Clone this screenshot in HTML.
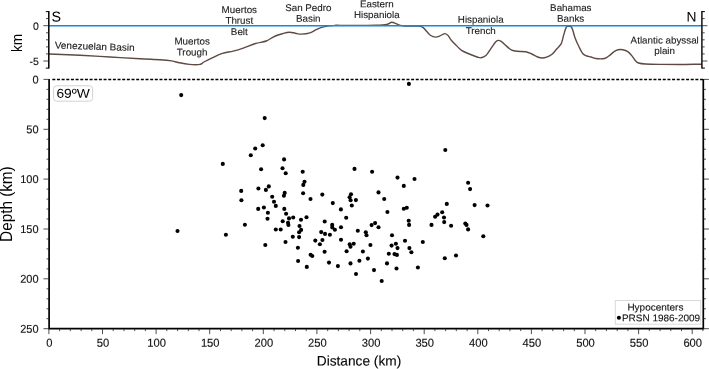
<!DOCTYPE html>
<html><head><meta charset="utf-8"><title>Hypocenters 69W</title>
<style>html,body{margin:0;padding:0;background:#fff}svg{display:block}svg{stroke-width:0}text{font-family:"Liberation Sans",Arial,sans-serif;stroke:#1c1c1c}</style></head><body>
<svg width="709" height="369" viewBox="0 0 709 369">
<rect width="709" height="369" fill="#fff"/>
<g id="top">
<path d="M49.0 54.0 C54.2 54.2 69.8 54.8 80.0 55.3 C90.2 55.8 100.0 56.4 110.0 57.0 C120.0 57.6 131.7 58.3 140.0 58.8 C148.3 59.3 154.7 59.4 160.0 59.8 C165.3 60.1 168.4 60.4 171.7 60.9 C174.9 61.4 176.6 62.2 179.5 62.8 C182.4 63.4 185.9 64.1 189.3 64.4 C192.7 64.7 197.6 64.8 200.0 64.4 C202.4 64.0 201.8 63.1 203.9 62.0 C206.0 60.9 209.6 59.1 212.7 57.6 C215.8 56.1 219.0 54.4 222.4 53.3 C225.8 52.2 229.6 52.0 233.2 51.1 C236.8 50.2 240.2 49.1 243.9 47.8 C247.6 46.5 251.9 44.6 255.6 43.5 C259.3 42.4 263.4 42.1 266.3 41.0 C269.2 39.9 271.2 38.1 273.2 37.1 C275.1 36.1 276.4 35.6 278.0 35.0 C279.6 34.4 280.8 34.1 282.7 33.6 C284.6 33.1 287.4 32.3 289.5 32.2 C291.6 32.1 293.4 32.9 295.4 33.2 C297.3 33.5 298.8 34.2 301.2 34.1 C303.6 34.0 307.4 33.6 310.0 32.8 C312.6 32.0 314.5 30.3 316.8 29.3 C319.1 28.3 320.8 27.5 323.7 26.9 C326.6 26.2 331.6 25.6 334.4 25.4 C337.1 25.1 335.9 25.4 340.2 25.4 C344.5 25.4 354.0 25.4 360.0 25.4 C366.0 25.4 371.5 25.5 376.0 25.3 C380.5 25.1 384.2 24.9 386.8 24.4 C389.4 23.9 390.1 22.3 391.7 22.2 C393.3 22.1 394.8 23.2 396.6 23.8 C398.4 24.4 398.8 25.4 402.4 25.8 C406.0 26.2 414.6 25.8 418.0 26.0 C421.4 26.2 421.4 26.4 422.9 27.3 C424.4 28.2 425.5 30.2 426.8 31.6 C428.1 33.0 429.2 34.6 430.7 35.5 C432.2 36.4 434.1 37.0 435.6 37.1 C437.1 37.2 438.0 36.7 439.5 36.1 C441.0 35.5 443.2 33.8 444.6 33.6 C446.0 33.4 446.5 34.0 447.6 35.1 C448.8 36.2 450.0 38.8 451.5 40.5 C453.0 42.2 454.7 44.0 456.4 45.6 C458.1 47.2 459.4 48.9 461.5 50.3 C463.6 51.7 466.7 52.9 469.3 54.0 C471.9 55.1 475.2 56.4 477.1 57.0 C479.1 57.6 479.5 58.0 481.0 57.8 C482.5 57.6 484.3 57.1 485.9 55.6 C487.5 54.1 489.1 51.1 490.7 48.8 C492.3 46.5 494.4 43.4 495.6 42.0 C496.8 40.6 497.1 40.5 498.1 40.4 C499.1 40.3 500.1 40.7 501.5 41.6 C502.9 42.5 504.7 44.5 506.3 45.9 C507.9 47.3 509.4 48.9 511.2 49.8 C513.0 50.7 514.6 51.0 517.1 51.3 C519.6 51.6 523.5 51.2 525.9 51.7 C528.3 52.2 529.8 53.1 531.7 54.0 C533.7 54.9 535.8 56.3 537.6 57.0 C539.4 57.7 540.9 58.0 542.4 58.0 C543.9 58.0 545.0 57.8 546.6 57.2 C548.2 56.6 550.4 55.5 552.0 54.2 C553.6 52.9 554.9 51.0 556.4 49.3 C557.9 47.6 559.9 46.1 561.1 43.9 C562.3 41.7 562.7 38.5 563.4 36.1 C564.1 33.7 564.9 30.8 565.4 29.3 C565.9 27.8 566.1 27.5 566.4 27.0 C566.7 26.5 566.8 26.4 567.4 26.3 C568.0 26.2 569.6 26.2 570.3 26.3 C570.9 26.4 570.9 26.4 571.3 27.0 C571.7 27.6 572.2 28.4 572.8 30.2 C573.4 32.0 574.1 35.2 575.1 38.0 C576.1 40.8 577.7 44.2 579.0 46.8 C580.3 49.4 581.6 52.2 582.9 53.7 C584.2 55.2 585.4 55.5 586.8 56.0 C588.2 56.5 589.6 56.6 591.1 57.0 C592.6 57.4 593.4 58.2 595.6 58.5 C597.8 58.8 602.1 59.0 604.4 58.5 C606.7 58.0 607.7 56.7 609.3 55.6 C610.9 54.5 612.6 52.7 614.1 51.7 C615.6 50.7 616.5 50.1 618.0 49.8 C619.5 49.5 621.3 49.5 622.9 49.8 C624.5 50.1 626.3 50.7 627.8 51.7 C629.3 52.7 630.4 54.1 631.7 55.6 C633.0 57.1 634.5 59.7 635.6 60.9 C636.7 62.1 636.9 62.5 638.5 63.0 C640.1 63.5 641.8 63.8 645.4 64.0 C649.0 64.2 654.2 64.3 660.0 64.4 C665.8 64.5 673.0 64.5 680.0 64.5 C687.0 64.5 698.1 64.2 701.7 64.2" fill="none" stroke="#5f4a43" stroke-width="1.4" stroke-linejoin="round"/>
<line x1="48.8" y1="25.7" x2="701.9" y2="25.7" stroke="#0f8ae0" stroke-width="1.5"/>
<g stroke="#000" fill="none">
<path d="M45.8 11.6 H48.8 M45.8 68.1 H48.8" stroke-width="1"/>
<line x1="48.8" y1="11.1" x2="48.8" y2="68.6" stroke-width="1.5"/>
<path d="M704.9 11.6 H701.9 M704.9 68.1 H701.9" stroke-width="1"/>
<line x1="701.9" y1="11.1" x2="701.9" y2="68.6" stroke-width="1.4"/>
<line x1="43.3" y1="61.0" x2="48.8" y2="61.0" stroke-width="0.8" stroke="#222"/>
<line x1="701.9" y1="61.0" x2="707.4" y2="61.0" stroke-width="0.8" stroke="#222"/>
<line x1="46.0" y1="53.9" x2="48.8" y2="53.9" stroke-width="0.8" stroke="#222"/>
<line x1="701.9" y1="53.9" x2="704.7" y2="53.9" stroke-width="0.8" stroke="#222"/>
<line x1="46.0" y1="46.9" x2="48.8" y2="46.9" stroke-width="0.8" stroke="#222"/>
<line x1="701.9" y1="46.9" x2="704.7" y2="46.9" stroke-width="0.8" stroke="#222"/>
<line x1="46.0" y1="39.8" x2="48.8" y2="39.8" stroke-width="0.8" stroke="#222"/>
<line x1="701.9" y1="39.8" x2="704.7" y2="39.8" stroke-width="0.8" stroke="#222"/>
<line x1="46.0" y1="32.8" x2="48.8" y2="32.8" stroke-width="0.8" stroke="#222"/>
<line x1="701.9" y1="32.8" x2="704.7" y2="32.8" stroke-width="0.8" stroke="#222"/>
<line x1="43.3" y1="25.7" x2="48.8" y2="25.7" stroke-width="0.8" stroke="#222"/>
<line x1="701.9" y1="25.7" x2="707.4" y2="25.7" stroke-width="0.8" stroke="#222"/>
<line x1="46.0" y1="18.6" x2="48.8" y2="18.6" stroke-width="0.8" stroke="#222"/>
<line x1="701.9" y1="18.6" x2="704.7" y2="18.6" stroke-width="0.8" stroke="#222"/>
</g>
<g font-size="10.5" text-anchor="end" fill="#111" style="stroke-width:0.12"><text transform="translate(38.9 29.8) rotate(0.05)">0</text><text transform="translate(38.9 65.0) rotate(0.05)">-5</text></g>
<text transform="translate(21.8 43) rotate(-90) scale(1 1.12)" font-size="13.6" text-anchor="middle" fill="#000">km</text>
<text transform="translate(51.5 21.6) rotate(0.05)" font-size="14.3" fill="#000">S</text>
<text transform="translate(696.5 21.5) rotate(0.05)" font-size="13.8" text-anchor="end" fill="#000">N</text>
<g font-size="9.7" text-anchor="middle" fill="#1c1c1c" style="stroke-width:0.12">
<text transform="translate(94.6 49.7) rotate(1.8) scale(1.03 1)">Venezuelan Basin</text>
<text transform="translate(192.1 44.6) rotate(0.05) scale(1.012 1)">Muertos</text>
<text transform="translate(192.1 55.6) rotate(0.05) scale(1.012 1)">Trough</text>
<text transform="translate(239.3 13.1) rotate(0.05) scale(1.012 1)">Muertos</text>
<text transform="translate(239.3 23.8) rotate(0.05) scale(1.012 1)">Thrust</text>
<text transform="translate(239.3 34.9) rotate(0.05) scale(1.012 1)">Belt</text>
<text transform="translate(308.3 11.1) rotate(0.05) scale(1.012 1)">San Pedro</text>
<text transform="translate(308.3 21.8) rotate(0.05) scale(1.012 1)">Basin</text>
<text transform="translate(376.8 7.3) rotate(0.05) scale(1.012 1)">Eastern</text>
<text transform="translate(376.8 17.9) rotate(0.05) scale(1.012 1)">Hispaniola</text>
<text transform="translate(480.7 22.8) rotate(0.05) scale(1.012 1)">Hispaniola</text>
<text transform="translate(480.7 33.9) rotate(0.05) scale(1.012 1)">Trench</text>
<text transform="translate(570.8 11.1) rotate(0.05) scale(1.012 1)">Bahamas</text>
<text transform="translate(570.6 21.8) rotate(0.05) scale(1.012 1)">Banks</text>
<text transform="translate(664.7 43.5) rotate(0.05) scale(1.012 1)">Atlantic abyssal</text>
<text transform="translate(664.6 53.9) rotate(0.05) scale(1.012 1)">plain</text>
</g></g>
<g id="main">
<line x1="52.3" y1="79.4" x2="703.3" y2="79.4" stroke="#000" stroke-width="1.5" stroke-dasharray="3 1.66"/>
<path d="M49.1 79.0 V328.7 H703.3 V79.0" fill="none" stroke="#000" stroke-width="1.7" stroke-linejoin="miter"/>
<g stroke="#222" stroke-width="0.8">
<line x1="43.5" y1="79.4" x2="49.1" y2="79.4"/>
<line x1="703.3" y1="79.4" x2="708.9" y2="79.4"/>
<line x1="46.5" y1="89.4" x2="49.1" y2="89.4"/>
<line x1="703.3" y1="89.4" x2="705.9" y2="89.4"/>
<line x1="46.5" y1="99.3" x2="49.1" y2="99.3"/>
<line x1="703.3" y1="99.3" x2="705.9" y2="99.3"/>
<line x1="46.5" y1="109.3" x2="49.1" y2="109.3"/>
<line x1="703.3" y1="109.3" x2="705.9" y2="109.3"/>
<line x1="46.5" y1="119.3" x2="49.1" y2="119.3"/>
<line x1="703.3" y1="119.3" x2="705.9" y2="119.3"/>
<line x1="43.5" y1="129.3" x2="49.1" y2="129.3"/>
<line x1="703.3" y1="129.3" x2="708.9" y2="129.3"/>
<line x1="46.5" y1="139.2" x2="49.1" y2="139.2"/>
<line x1="703.3" y1="139.2" x2="705.9" y2="139.2"/>
<line x1="46.5" y1="149.2" x2="49.1" y2="149.2"/>
<line x1="703.3" y1="149.2" x2="705.9" y2="149.2"/>
<line x1="46.5" y1="159.2" x2="49.1" y2="159.2"/>
<line x1="703.3" y1="159.2" x2="705.9" y2="159.2"/>
<line x1="46.5" y1="169.1" x2="49.1" y2="169.1"/>
<line x1="703.3" y1="169.1" x2="705.9" y2="169.1"/>
<line x1="43.5" y1="179.1" x2="49.1" y2="179.1"/>
<line x1="703.3" y1="179.1" x2="708.9" y2="179.1"/>
<line x1="46.5" y1="189.1" x2="49.1" y2="189.1"/>
<line x1="703.3" y1="189.1" x2="705.9" y2="189.1"/>
<line x1="46.5" y1="199.1" x2="49.1" y2="199.1"/>
<line x1="703.3" y1="199.1" x2="705.9" y2="199.1"/>
<line x1="46.5" y1="209.0" x2="49.1" y2="209.0"/>
<line x1="703.3" y1="209.0" x2="705.9" y2="209.0"/>
<line x1="46.5" y1="219.0" x2="49.1" y2="219.0"/>
<line x1="703.3" y1="219.0" x2="705.9" y2="219.0"/>
<line x1="43.5" y1="229.0" x2="49.1" y2="229.0"/>
<line x1="703.3" y1="229.0" x2="708.9" y2="229.0"/>
<line x1="46.5" y1="239.0" x2="49.1" y2="239.0"/>
<line x1="703.3" y1="239.0" x2="705.9" y2="239.0"/>
<line x1="46.5" y1="248.9" x2="49.1" y2="248.9"/>
<line x1="703.3" y1="248.9" x2="705.9" y2="248.9"/>
<line x1="46.5" y1="258.9" x2="49.1" y2="258.9"/>
<line x1="703.3" y1="258.9" x2="705.9" y2="258.9"/>
<line x1="46.5" y1="268.9" x2="49.1" y2="268.9"/>
<line x1="703.3" y1="268.9" x2="705.9" y2="268.9"/>
<line x1="43.5" y1="278.8" x2="49.1" y2="278.8"/>
<line x1="703.3" y1="278.8" x2="708.9" y2="278.8"/>
<line x1="46.5" y1="288.8" x2="49.1" y2="288.8"/>
<line x1="703.3" y1="288.8" x2="705.9" y2="288.8"/>
<line x1="46.5" y1="298.8" x2="49.1" y2="298.8"/>
<line x1="703.3" y1="298.8" x2="705.9" y2="298.8"/>
<line x1="46.5" y1="308.8" x2="49.1" y2="308.8"/>
<line x1="703.3" y1="308.8" x2="705.9" y2="308.8"/>
<line x1="46.5" y1="318.7" x2="49.1" y2="318.7"/>
<line x1="703.3" y1="318.7" x2="705.9" y2="318.7"/>
<line x1="43.5" y1="328.7" x2="49.1" y2="328.7"/>
<line x1="703.3" y1="328.7" x2="708.9" y2="328.7"/>
<line x1="48.9" y1="328.7" x2="48.9" y2="334.1"/>
<line x1="59.6" y1="328.7" x2="59.6" y2="331.1"/>
<line x1="70.3" y1="328.7" x2="70.3" y2="331.1"/>
<line x1="81.1" y1="328.7" x2="81.1" y2="331.1"/>
<line x1="91.8" y1="328.7" x2="91.8" y2="331.1"/>
<line x1="102.5" y1="328.7" x2="102.5" y2="334.1"/>
<line x1="113.2" y1="328.7" x2="113.2" y2="331.1"/>
<line x1="124.0" y1="328.7" x2="124.0" y2="331.1"/>
<line x1="134.7" y1="328.7" x2="134.7" y2="331.1"/>
<line x1="145.4" y1="328.7" x2="145.4" y2="331.1"/>
<line x1="156.1" y1="328.7" x2="156.1" y2="334.1"/>
<line x1="166.8" y1="328.7" x2="166.8" y2="331.1"/>
<line x1="177.6" y1="328.7" x2="177.6" y2="331.1"/>
<line x1="188.3" y1="328.7" x2="188.3" y2="331.1"/>
<line x1="199.0" y1="328.7" x2="199.0" y2="331.1"/>
<line x1="209.7" y1="328.7" x2="209.7" y2="334.1"/>
<line x1="220.5" y1="328.7" x2="220.5" y2="331.1"/>
<line x1="231.2" y1="328.7" x2="231.2" y2="331.1"/>
<line x1="241.9" y1="328.7" x2="241.9" y2="331.1"/>
<line x1="252.6" y1="328.7" x2="252.6" y2="331.1"/>
<line x1="263.3" y1="328.7" x2="263.3" y2="334.1"/>
<line x1="274.1" y1="328.7" x2="274.1" y2="331.1"/>
<line x1="284.8" y1="328.7" x2="284.8" y2="331.1"/>
<line x1="295.5" y1="328.7" x2="295.5" y2="331.1"/>
<line x1="306.2" y1="328.7" x2="306.2" y2="331.1"/>
<line x1="316.9" y1="328.7" x2="316.9" y2="334.1"/>
<line x1="327.7" y1="328.7" x2="327.7" y2="331.1"/>
<line x1="338.4" y1="328.7" x2="338.4" y2="331.1"/>
<line x1="349.1" y1="328.7" x2="349.1" y2="331.1"/>
<line x1="359.8" y1="328.7" x2="359.8" y2="331.1"/>
<line x1="370.6" y1="328.7" x2="370.6" y2="334.1"/>
<line x1="381.3" y1="328.7" x2="381.3" y2="331.1"/>
<line x1="392.0" y1="328.7" x2="392.0" y2="331.1"/>
<line x1="402.7" y1="328.7" x2="402.7" y2="331.1"/>
<line x1="413.4" y1="328.7" x2="413.4" y2="331.1"/>
<line x1="424.2" y1="328.7" x2="424.2" y2="334.1"/>
<line x1="434.9" y1="328.7" x2="434.9" y2="331.1"/>
<line x1="445.6" y1="328.7" x2="445.6" y2="331.1"/>
<line x1="456.3" y1="328.7" x2="456.3" y2="331.1"/>
<line x1="467.1" y1="328.7" x2="467.1" y2="331.1"/>
<line x1="477.8" y1="328.7" x2="477.8" y2="334.1"/>
<line x1="488.5" y1="328.7" x2="488.5" y2="331.1"/>
<line x1="499.2" y1="328.7" x2="499.2" y2="331.1"/>
<line x1="509.9" y1="328.7" x2="509.9" y2="331.1"/>
<line x1="520.7" y1="328.7" x2="520.7" y2="331.1"/>
<line x1="531.4" y1="328.7" x2="531.4" y2="334.1"/>
<line x1="542.1" y1="328.7" x2="542.1" y2="331.1"/>
<line x1="552.8" y1="328.7" x2="552.8" y2="331.1"/>
<line x1="563.6" y1="328.7" x2="563.6" y2="331.1"/>
<line x1="574.3" y1="328.7" x2="574.3" y2="331.1"/>
<line x1="585.0" y1="328.7" x2="585.0" y2="334.1"/>
<line x1="595.7" y1="328.7" x2="595.7" y2="331.1"/>
<line x1="606.4" y1="328.7" x2="606.4" y2="331.1"/>
<line x1="617.2" y1="328.7" x2="617.2" y2="331.1"/>
<line x1="627.9" y1="328.7" x2="627.9" y2="331.1"/>
<line x1="638.6" y1="328.7" x2="638.6" y2="334.1"/>
<line x1="649.3" y1="328.7" x2="649.3" y2="331.1"/>
<line x1="660.1" y1="328.7" x2="660.1" y2="331.1"/>
<line x1="670.8" y1="328.7" x2="670.8" y2="331.1"/>
<line x1="681.5" y1="328.7" x2="681.5" y2="331.1"/>
<line x1="692.2" y1="328.7" x2="692.2" y2="334.1"/>
<line x1="702.9" y1="328.7" x2="702.9" y2="331.1"/>
</g>
<g font-size="11.3" text-anchor="end" fill="#111" style="stroke-width:0.15">
<text transform="translate(38.6 83.4) rotate(0.05) scale(0.975 1)">0</text>
<text transform="translate(38.6 133.3) rotate(0.05) scale(0.975 1)">50</text>
<text transform="translate(38.6 183.1) rotate(0.05) scale(0.975 1)">100</text>
<text transform="translate(38.6 233.0) rotate(0.05) scale(0.975 1)">150</text>
<text transform="translate(38.6 282.8) rotate(0.05) scale(0.975 1)">200</text>
<text transform="translate(38.6 332.7) rotate(0.05) scale(0.975 1)">250</text>
</g>
<g font-size="11.6" text-anchor="middle" fill="#111" style="stroke-width:0.15">
<text transform="translate(49.4 346.7) rotate(0.05) scale(0.965 1)">0</text>
<text transform="translate(103.0 346.7) rotate(0.05) scale(0.965 1)">50</text>
<text transform="translate(156.6 346.7) rotate(0.05) scale(0.965 1)">100</text>
<text transform="translate(210.2 346.7) rotate(0.05) scale(0.965 1)">150</text>
<text transform="translate(263.8 346.7) rotate(0.05) scale(0.965 1)">200</text>
<text transform="translate(317.4 346.7) rotate(0.05) scale(0.965 1)">250</text>
<text transform="translate(371.1 346.7) rotate(0.05) scale(0.965 1)">300</text>
<text transform="translate(424.7 346.7) rotate(0.05) scale(0.965 1)">350</text>
<text transform="translate(478.3 346.7) rotate(0.05) scale(0.965 1)">400</text>
<text transform="translate(531.9 346.7) rotate(0.05) scale(0.965 1)">450</text>
<text transform="translate(585.5 346.7) rotate(0.05) scale(0.965 1)">500</text>
<text transform="translate(639.1 346.7) rotate(0.05) scale(0.965 1)">550</text>
<text transform="translate(692.7 346.7) rotate(0.05) scale(0.965 1)">600</text>
</g>
<text transform="translate(11.9 204.1) rotate(-90) scale(1 1.05)" font-size="15.3" text-anchor="middle" fill="#000">Depth (km)</text>
<text transform="translate(359 365.5) rotate(0.05)" font-size="13.7" text-anchor="middle" fill="#000" style="stroke-width:0.12">Distance (km)</text>
<rect x="53.6" y="85.8" width="39" height="15.4" rx="3" ry="3" fill="#fff" stroke="#d2d2d2" stroke-width="1"/>
<text transform="translate(73.1 97.8) rotate(0.05) scale(1.07 1)" font-size="12.9" text-anchor="middle" fill="#000">69ºW</text>
<g fill="#000">
<circle cx="181.2" cy="95.1" r="2.05"/>
<circle cx="264.7" cy="118.1" r="2.05"/>
<circle cx="262.7" cy="145.3" r="2.05"/>
<circle cx="255.2" cy="148.5" r="2.05"/>
<circle cx="250.8" cy="155.2" r="2.05"/>
<circle cx="222.8" cy="163.9" r="2.05"/>
<circle cx="284.1" cy="159.4" r="2.05"/>
<circle cx="261.1" cy="169.3" r="2.05"/>
<circle cx="282.5" cy="168.3" r="2.05"/>
<circle cx="285.7" cy="173.2" r="2.05"/>
<circle cx="268.8" cy="186.4" r="2.05"/>
<circle cx="258.4" cy="188.5" r="2.05"/>
<circle cx="265.9" cy="189.9" r="2.05"/>
<circle cx="241.2" cy="190.9" r="2.05"/>
<circle cx="284.7" cy="192.9" r="2.05"/>
<circle cx="283.9" cy="195.8" r="2.05"/>
<circle cx="272.2" cy="196.8" r="2.05"/>
<circle cx="241.4" cy="200.2" r="2.05"/>
<circle cx="274.0" cy="201.8" r="2.05"/>
<circle cx="275.8" cy="205.9" r="2.05"/>
<circle cx="263.9" cy="207.5" r="2.05"/>
<circle cx="258.2" cy="208.9" r="2.05"/>
<circle cx="284.3" cy="208.9" r="2.05"/>
<circle cx="267.9" cy="212.7" r="2.05"/>
<circle cx="286.1" cy="213.8" r="2.05"/>
<circle cx="267.5" cy="218.8" r="2.05"/>
<circle cx="289.0" cy="218.4" r="2.05"/>
<circle cx="282.7" cy="221.2" r="2.05"/>
<circle cx="288.0" cy="222.7" r="2.05"/>
<circle cx="288.4" cy="224.9" r="2.05"/>
<circle cx="244.9" cy="224.7" r="2.05"/>
<circle cx="275.8" cy="229.5" r="2.05"/>
<circle cx="280.7" cy="229.5" r="2.05"/>
<circle cx="177.5" cy="231.0" r="2.05"/>
<circle cx="225.9" cy="234.8" r="2.05"/>
<circle cx="299.5" cy="226.0" r="2.05"/>
<circle cx="301.1" cy="229.9" r="2.05"/>
<circle cx="299.1" cy="232.3" r="2.05"/>
<circle cx="292.8" cy="236.7" r="2.05"/>
<circle cx="299.1" cy="237.1" r="2.05"/>
<circle cx="285.5" cy="242.0" r="2.05"/>
<circle cx="265.3" cy="245.0" r="2.05"/>
<circle cx="297.9" cy="247.7" r="2.05"/>
<circle cx="298.1" cy="261.0" r="2.05"/>
<circle cx="306.8" cy="266.9" r="2.05"/>
<circle cx="310.6" cy="254.7" r="2.05"/>
<circle cx="312.3" cy="256.0" r="2.05"/>
<circle cx="315.3" cy="240.6" r="2.05"/>
<circle cx="319.9" cy="244.2" r="2.05"/>
<circle cx="322.4" cy="240.0" r="2.05"/>
<circle cx="321.2" cy="232.1" r="2.05"/>
<circle cx="325.0" cy="233.9" r="2.05"/>
<circle cx="329.9" cy="234.7" r="2.05"/>
<circle cx="324.6" cy="251.7" r="2.05"/>
<circle cx="329.0" cy="262.6" r="2.05"/>
<circle cx="332.3" cy="227.4" r="2.05"/>
<circle cx="334.9" cy="229.7" r="2.05"/>
<circle cx="341.0" cy="227.2" r="2.05"/>
<circle cx="341.0" cy="239.8" r="2.05"/>
<circle cx="337.9" cy="266.1" r="2.05"/>
<circle cx="346.6" cy="251.3" r="2.05"/>
<circle cx="349.7" cy="244.2" r="2.05"/>
<circle cx="350.5" cy="246.8" r="2.05"/>
<circle cx="353.7" cy="243.8" r="2.05"/>
<circle cx="350.5" cy="263.4" r="2.05"/>
<circle cx="356.0" cy="274.0" r="2.05"/>
<circle cx="357.8" cy="230.7" r="2.05"/>
<circle cx="359.4" cy="260.8" r="2.05"/>
<circle cx="302.7" cy="171.7" r="2.05"/>
<circle cx="304.5" cy="181.8" r="2.05"/>
<circle cx="303.3" cy="184.9" r="2.05"/>
<circle cx="303.1" cy="193.2" r="2.05"/>
<circle cx="310.5" cy="199.0" r="2.05"/>
<circle cx="322.3" cy="194.6" r="2.05"/>
<circle cx="332.8" cy="203.1" r="2.05"/>
<circle cx="340.9" cy="209.4" r="2.05"/>
<circle cx="293.2" cy="217.5" r="2.05"/>
<circle cx="301.0" cy="219.7" r="2.05"/>
<circle cx="306.5" cy="217.3" r="2.05"/>
<circle cx="324.7" cy="221.5" r="2.05"/>
<circle cx="332.2" cy="224.9" r="2.05"/>
<circle cx="346.2" cy="217.7" r="2.05"/>
<circle cx="351.0" cy="194.2" r="2.05"/>
<circle cx="349.6" cy="197.2" r="2.05"/>
<circle cx="350.6" cy="200.3" r="2.05"/>
<circle cx="355.9" cy="200.1" r="2.05"/>
<circle cx="351.8" cy="205.5" r="2.05"/>
<circle cx="354.5" cy="168.9" r="2.05"/>
<circle cx="372.1" cy="171.7" r="2.05"/>
<circle cx="378.5" cy="192.4" r="2.05"/>
<circle cx="384.2" cy="199.0" r="2.05"/>
<circle cx="387.4" cy="212.0" r="2.05"/>
<circle cx="397.5" cy="177.6" r="2.05"/>
<circle cx="403.8" cy="185.9" r="2.05"/>
<circle cx="414.5" cy="179.0" r="2.05"/>
<circle cx="406.8" cy="207.7" r="2.05"/>
<circle cx="403.8" cy="208.8" r="2.05"/>
<circle cx="408.7" cy="220.7" r="2.05"/>
<circle cx="409.1" cy="224.9" r="2.05"/>
<circle cx="375.1" cy="223.1" r="2.05"/>
<circle cx="371.6" cy="225.1" r="2.05"/>
<circle cx="378.5" cy="227.2" r="2.05"/>
<circle cx="365.8" cy="232.2" r="2.05"/>
<circle cx="468.1" cy="182.7" r="2.05"/>
<circle cx="470.1" cy="189.1" r="2.05"/>
<circle cx="446.8" cy="203.9" r="2.05"/>
<circle cx="474.6" cy="205.1" r="2.05"/>
<circle cx="487.5" cy="205.5" r="2.05"/>
<circle cx="442.2" cy="212.2" r="2.05"/>
<circle cx="437.5" cy="214.6" r="2.05"/>
<circle cx="435.1" cy="216.8" r="2.05"/>
<circle cx="444.0" cy="217.5" r="2.05"/>
<circle cx="444.2" cy="222.1" r="2.05"/>
<circle cx="431.5" cy="224.9" r="2.05"/>
<circle cx="451.1" cy="225.8" r="2.05"/>
<circle cx="465.3" cy="223.5" r="2.05"/>
<circle cx="466.5" cy="224.9" r="2.05"/>
<circle cx="468.1" cy="229.4" r="2.05"/>
<circle cx="366.5" cy="235.3" r="2.05"/>
<circle cx="483.3" cy="236.3" r="2.05"/>
<circle cx="392.0" cy="235.3" r="2.05"/>
<circle cx="405.0" cy="240.8" r="2.05"/>
<circle cx="422.8" cy="242.0" r="2.05"/>
<circle cx="370.4" cy="245.0" r="2.05"/>
<circle cx="395.9" cy="243.8" r="2.05"/>
<circle cx="391.6" cy="245.6" r="2.05"/>
<circle cx="397.5" cy="248.1" r="2.05"/>
<circle cx="409.4" cy="248.1" r="2.05"/>
<circle cx="411.4" cy="252.3" r="2.05"/>
<circle cx="362.9" cy="251.5" r="2.05"/>
<circle cx="388.8" cy="253.7" r="2.05"/>
<circle cx="394.5" cy="254.1" r="2.05"/>
<circle cx="396.9" cy="254.9" r="2.05"/>
<circle cx="367.9" cy="258.6" r="2.05"/>
<circle cx="387.0" cy="263.4" r="2.05"/>
<circle cx="396.5" cy="268.5" r="2.05"/>
<circle cx="417.9" cy="267.5" r="2.05"/>
<circle cx="374.0" cy="270.1" r="2.05"/>
<circle cx="381.7" cy="281.0" r="2.05"/>
<circle cx="444.8" cy="258.2" r="2.05"/>
<circle cx="456.0" cy="255.5" r="2.05"/>
<circle cx="408.9" cy="83.9" r="2.05"/>
<circle cx="445.3" cy="150.0" r="2.05"/>
</g>
<rect x="615.3" y="300.5" width="85.4" height="23.7" fill="#fff" stroke="#d9d9d9" stroke-width="1"/>
<g font-size="9.7" fill="#141414" style="stroke-width:0.12"><text transform="translate(655.4 310.6) rotate(0.05) scale(1.03 1)" text-anchor="middle">Hypocenters</text><text transform="translate(621.9 321.2) rotate(0.05) scale(1.03 1)">PRSN 1986-2009</text></g>
<circle cx="618.9" cy="317.8" r="2.05" fill="#000"/>
</g></svg></body></html>
